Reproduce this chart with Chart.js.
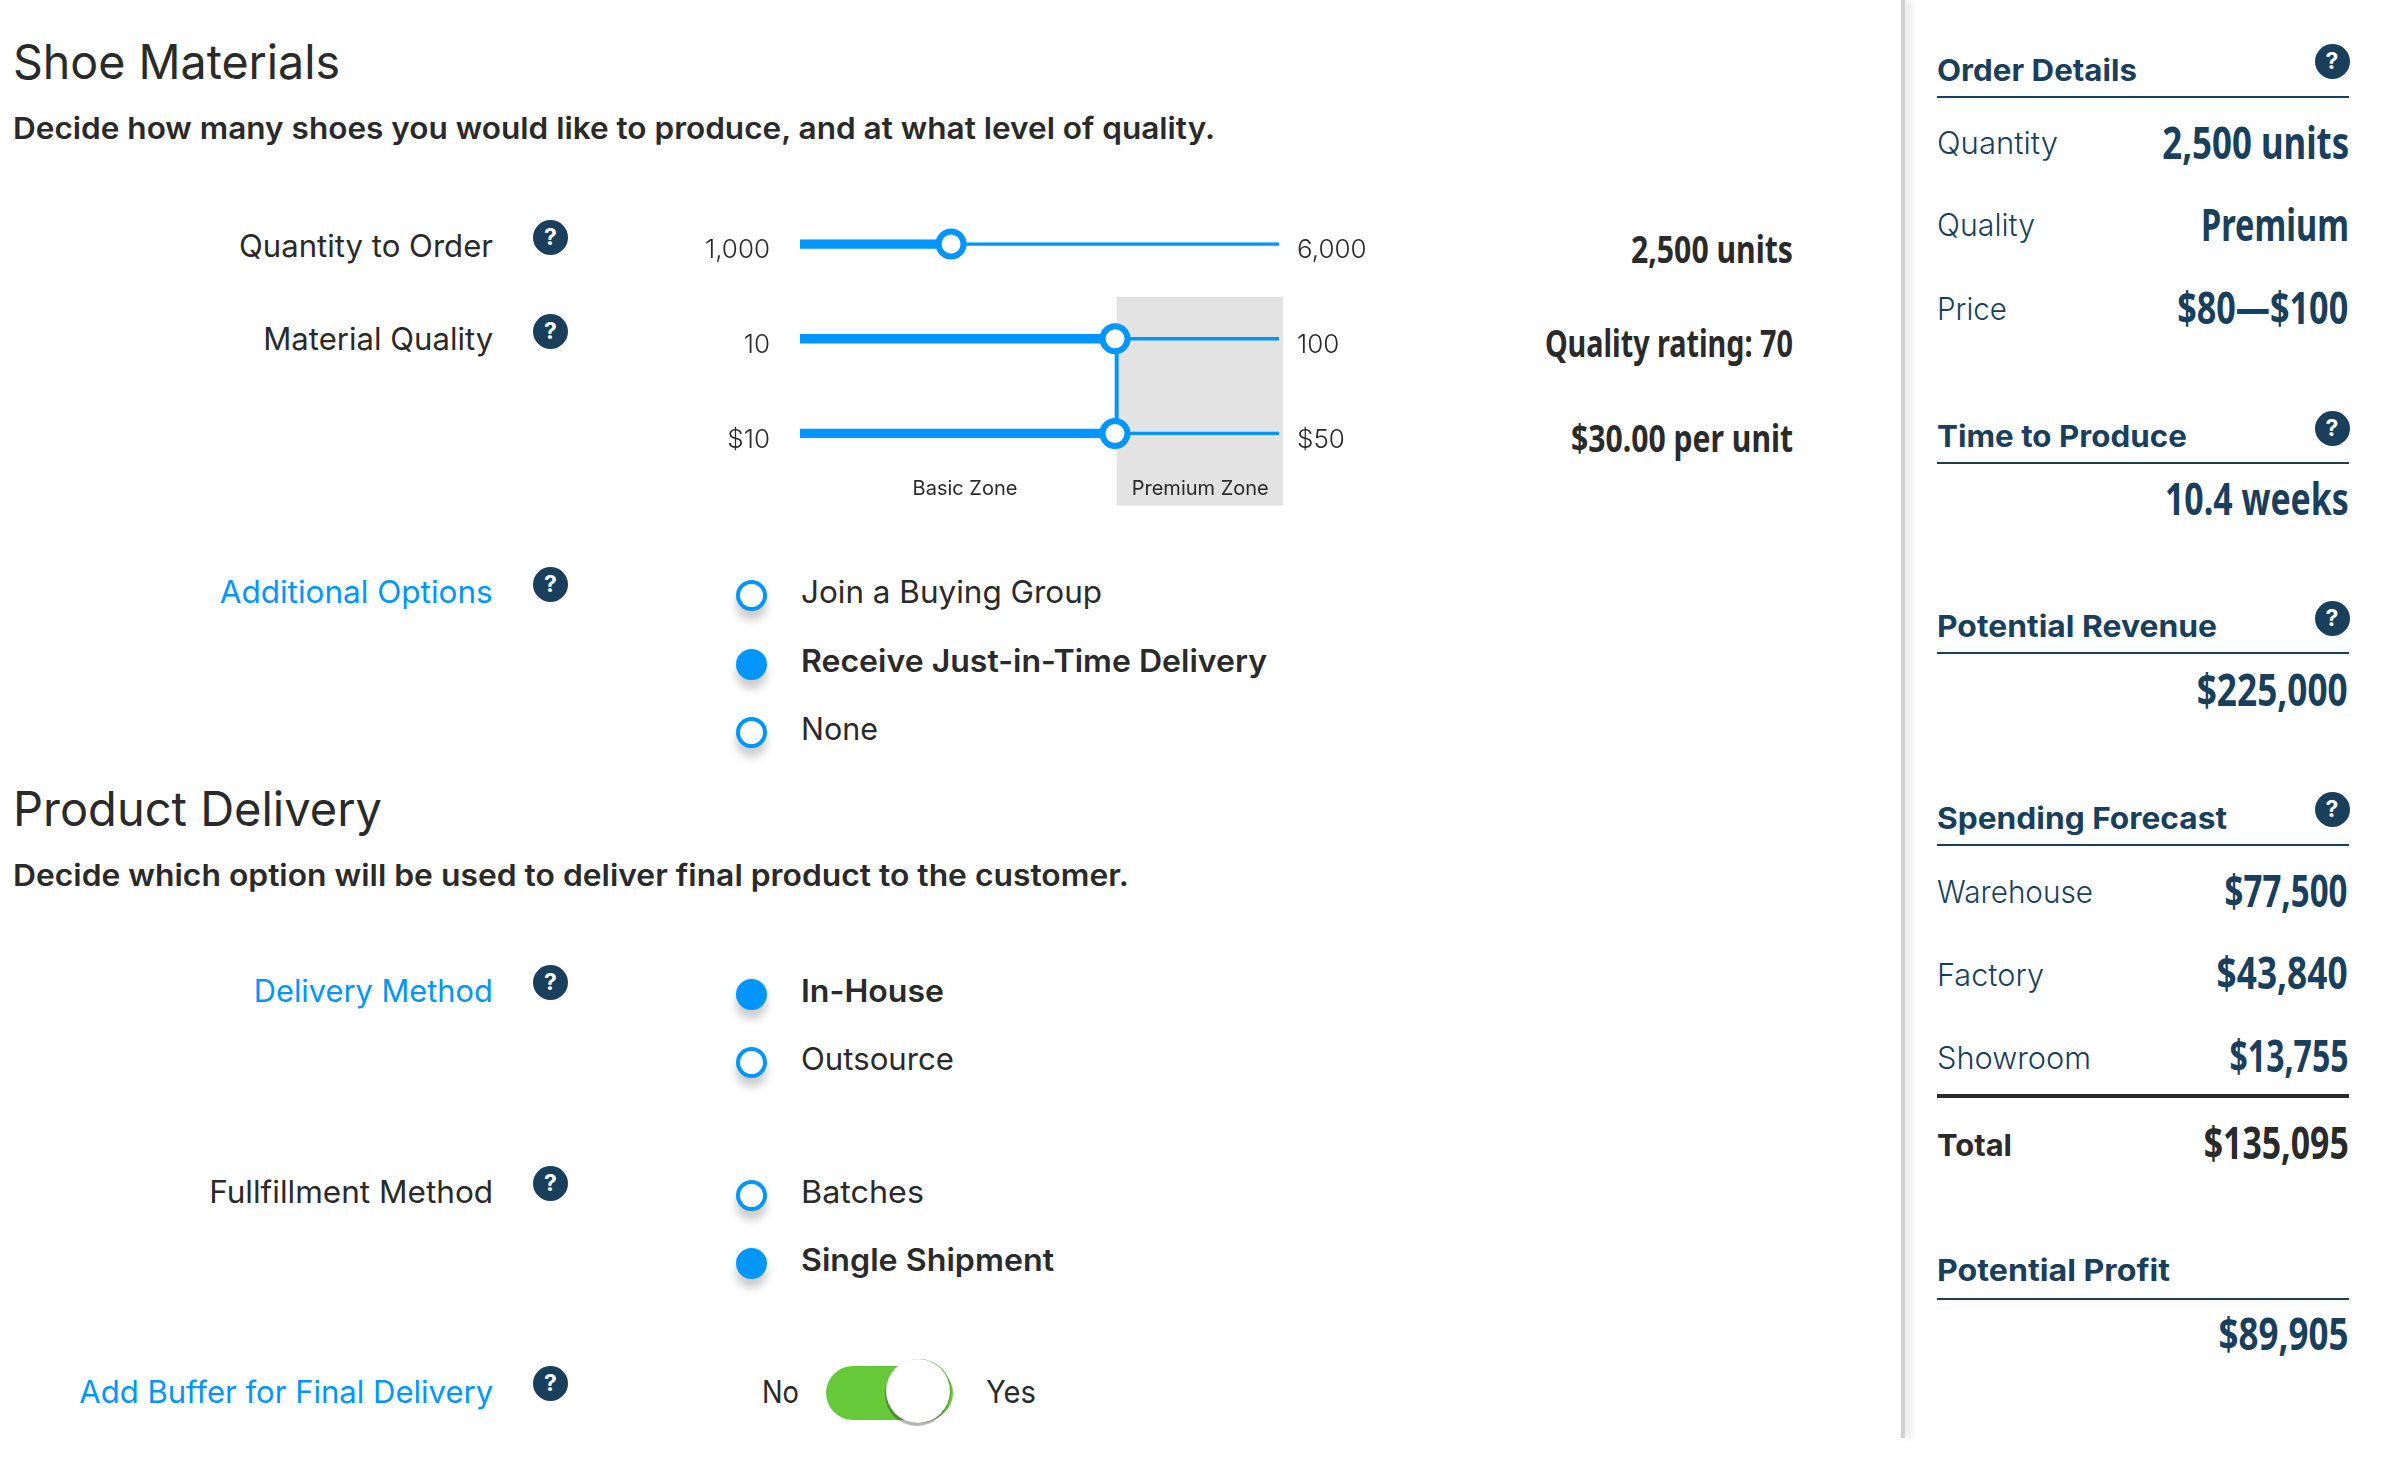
<!DOCTYPE html>
<html>
<head>
<meta charset="utf-8">
<title>Shoe Materials</title>
<script src="https://cdn.jsdelivr.net/npm/chart.js@4"></script>
<style>
    body { margin: 0; background: #fff; width: 2400px; height: 1473px; overflow: hidden; position: relative; font-family: Inter, sans-serif; color: #2a2a2a; }
    .t { position: absolute; white-space: nowrap; line-height: 1.2; }
    .title { font-size: 48px; font-weight: 400; }
    .sub { font-size: 30px; font-weight: 600; }
    .label { font-size: 31px; font-weight: 400; }
    .blue { color: #0095ff; }
    .picked { font-weight: 600; }
    .val { font-family: "Noto Sans", sans-serif; font-size: 38px; font-weight: 700; }
    .side-head { font-size: 30px; font-weight: 700; color: #1a3f5c; }
    .side-row { font-size: 31px; font-weight: 300; color: #1a3f5c; }
    .side-val { font-family: "Noto Sans", sans-serif; font-size: 44px; font-weight: 700; color: #1a3f5c; }
    .dark { color: #2a2a2a; }
    .help { position: absolute; width: 35px; height: 35px; border-radius: 50%; background: #1a3f5c; color: #fff; font: 700 23px/35px Inter, sans-serif; text-align: center; }
    .radio { position: absolute; width: 23px; height: 23px; border: 4px solid #0095ff; border-radius: 50%; background: #fff; box-shadow: 0 9px 9px rgba(0,0,0,.2); }
    .radio.on { background: #0095ff; }
    .rule { position: absolute; left: 1937px; width: 412px; height: 2px; background: #1a3f5c; }
    #divider { position: absolute; left: 1901px; top: 0; width: 4px; height: 1438px; background: #cfcfcf; box-shadow: 5px 0 7px rgba(0,0,0,.16); }
    #toggle { position: absolute; left: 826px; top: 1366px; width: 127px; height: 54px; border-radius: 27px; background: #66c93a; }
    #knob { position: absolute; left: 886px; top: 1359px; width: 64px; height: 64px; border-radius: 50%; background: #fff; box-shadow: -1px 3px 1px rgba(0,0,0,.3), 1px 0 0 #4f9e2b; }
    #sliders { position: absolute; left: 700px; top: 200px; width: 720px; height: 340px; }
</style>
</head>
<body>
<div id="divider"></div>
<div id="toggle"></div>
<div id="knob"></div>
<div id="sliders"><canvas id="sliderChart"></canvas></div>
<script>
const sliderNames = ['Quantity', 'Quality', 'Price'];
const sliderMins = [1000, 10, 10];
const sliderMaxs = [6000, 100, 50];
// where the handles sit on their tracks (captions say 2,500 / 70 / $30)
const handleValues = [2577, 69.2, 36.3];
const minLabels = ['1,000', '10', '$10'];
const maxLabels = ['6,000', '100', '$50'];
const zoneLabels = ['Basic Zone', 'Premium Zone'];
const zoneLabelCenters = [41, 85.2];   // on the quality scale
const premiumZoneStart = 69.5;
const linkedSliders = ['Quality', 'Price'];

const BLUE = '#0095ff';
const TEXT = '#2a2a2a';

function axisId(i) { return 'x' + i; }

const scales = { y: { type: 'category', labels: sliderNames, display: false, offset: false } };
sliderNames.forEach((n, i) => {
    scales[axisId(i)] = { type: 'linear', display: false, min: sliderMins[i], max: sliderMaxs[i] };
});

const datasets = [];
sliderNames.forEach((n, i) => {
    datasets.push({
        data: [{ x: sliderMins[i], y: n }, { x: sliderMaxs[i], y: n }],
        xAxisID: axisId(i), order: 4, borderColor: BLUE, borderWidth: 3.5, pointRadius: 0, borderCapStyle: 'butt'
    });
    datasets.push({
        data: [{ x: sliderMins[i], y: n }, { x: handleValues[i], y: n }],
        xAxisID: axisId(i), order: 2, borderColor: BLUE, borderWidth: 9.5, pointRadius: 0, borderCapStyle: 'butt'
    });
    datasets.push({
        data: [{ x: handleValues[i], y: n }],
        xAxisID: axisId(i), order: 0, showLine: false, pointRadius: 12.5, pointBorderWidth: 6,
        pointBorderColor: BLUE, pointBackgroundColor: '#fff'
    });
});
// vertical link between the quality and price handles
datasets.push({
    data: linkedSliders.map(n => ({ x: premiumZoneStart, y: n })),
    xAxisID: axisId(1), order: 1, borderColor: BLUE, borderWidth: 4, pointRadius: 0
});

const sliderDecor = {
    id: 'sliderDecor',
    beforeDatasetsDraw(chart) {
        const ctx = chart.ctx, xq = chart.scales[axisId(1)], y = chart.scales.y;
        const left = xq.getPixelForValue(premiumZoneStart);
        const right = xq.getPixelForValue(sliderMaxs[1]) + 4;
        const top = y.getPixelForValue(1) - 42;
        const bottom = y.getPixelForValue(2) + 72;
        ctx.save();
        ctx.fillStyle = '#e3e3e3';
        ctx.fillRect(left, top, right - left, bottom - top);
        ctx.restore();
    },
    afterDatasetsDraw(chart) {
        const ctx = chart.ctx, y = chart.scales.y;
        ctx.save();
        ctx.fillStyle = TEXT;
        ctx.textBaseline = 'alphabetic';
        ctx.font = '300 26px Inter, sans-serif';
        sliderNames.forEach((n, i) => {
            const xs = chart.scales[axisId(i)], py = y.getPixelForValue(i) + 14;
            ctx.textAlign = 'right';
            ctx.fillText(minLabels[i], xs.getPixelForValue(sliderMins[i]) - 30, py);
            ctx.textAlign = 'left';
            ctx.fillText(maxLabels[i], xs.getPixelForValue(sliderMaxs[i]) + 18, py);
        });
        ctx.font = '400 20px Inter, sans-serif';
        ctx.textAlign = 'center';
        zoneLabels.forEach((z, i) => {
            ctx.fillText(z, chart.scales[axisId(1)].getPixelForValue(zoneLabelCenters[i]), y.getPixelForValue(2) + 61);
        });
        ctx.restore();
    }
};

new Chart(document.getElementById('sliderChart'), {
    type: 'line',
    data: { datasets },
    options: {
        responsive: true,
        maintainAspectRatio: false,
        animation: false,
        devicePixelRatio: 1,
        layout: { padding: { left: 100, right: 141, top: 44, bottom: 106.5 } },
        plugins: { legend: { display: false }, tooltip: { enabled: false } },
        scales
    },
    plugins: [sliderDecor]
});

// page text around the chart: text, x, baseline, class, fitted width, right aligned?
function put(text, x, base, cls, width, right) {
    const el = document.createElement('div');
    el.className = 't ' + cls;
    el.textContent = text;
    const mark = document.createElement('i');
    mark.style.cssText = 'display:inline-block;width:0;height:0';
    el.appendChild(mark);
    document.body.appendChild(el);
    el.style.top = '0px';
    el.style.top = (base - mark.getBoundingClientRect().bottom) + 'px';
    const w = el.getBoundingClientRect().width;
    el.style.left = (right ? x - w : x) + 'px';
    if (width) {
        el.style.transformOrigin = right ? 'right center' : 'left center';
        el.style.transform = 'scaleX(' + (width / w) + ')';
    }
}
function help(cx, cy) {
    const el = document.createElement('div');
    el.className = 'help';
    el.textContent = '?';
    el.style.left = (cx - 17.5) + 'px';
    el.style.top = (cy - 17.5) + 'px';
    document.body.appendChild(el);
}
function radio(cy, on) {
    const el = document.createElement('div');
    el.className = 'radio' + (on ? ' on' : '');
    el.style.left = '736px';
    el.style.top = (cy - 15.5) + 'px';
    document.body.appendChild(el);
}
function rule(y, h, color) {
    const el = document.createElement('div');
    el.className = 'rule';
    el.style.top = y + 'px';
    if (h) el.style.height = h + 'px';
    if (color) el.style.background = color;
    document.body.appendChild(el);
}

document.fonts.ready.then(() => {
    put('Shoe Materials', 13, 79, 'title', 327);
    put('Decide how many shoes you would like to produce, and at what level of quality.', 13, 139, 'sub', 1202);
    put('Product Delivery', 13, 826, 'title', 369);
    put('Decide which option will be used to deliver final product to the customer.', 13, 886, 'sub', 1116);

    put('Quantity to Order', 493, 257, 'label', 254, true);
    put('Material Quality', 493, 350, 'label', 230, true);
    put('Additional Options', 493, 603, 'label blue', 273, true);
    put('Delivery Method', 493, 1002, 'label blue', 239, true);
    put('Fullfillment Method', 493, 1203, 'label', 284, true);
    put('Add Buffer for Final Delivery', 493, 1403, 'label blue', 414, true);
    [237, 331, 584, 982, 1183, 1383].forEach(y => help(550.5, y));

    put('2,500 units', 1793, 263, 'val', 162, true);
    put('Quality rating: 70', 1793, 357, 'val', 248, true);
    put('$30.00 per unit', 1793, 452, 'val', 222, true);

    radio(595, false); put('Join a Buying Group', 801, 603, 'label', 301);
    radio(664, true);  put('Receive Just-in-Time Delivery', 801, 672, 'label picked', 466);
    radio(732, false); put('None', 801, 740, 'label', 77);
    radio(994, true);  put('In-House', 801, 1002, 'label picked', 143);
    radio(1062, false); put('Outsource', 801, 1070, 'label', 153);
    radio(1195, false); put('Batches', 801, 1203, 'label', 123);
    radio(1263, true);  put('Single Shipment', 801, 1271, 'label picked', 253);
    put('No', 762, 1403, 'label', 37);
    put('Yes', 986, 1403, 'label', 50);

    // order sidebar
    put('Order Details', 1937, 81, 'side-head', 200);
    rule(96); help(2332, 61);
    put('Quantity', 1937, 154, 'side-row', 121);
    put('2,500 units', 2349, 159, 'side-val', 187, true);
    put('Quality', 1937, 236, 'side-row', 98);
    put('Premium', 2349, 241, 'side-val', 148, true);
    put('Price', 1937, 320, 'side-row', 70);
    put('$80—$100', 2348, 324, 'side-val', 171, true);

    put('Time to Produce', 1937, 447, 'side-head', 250);
    rule(462); help(2332, 428);
    put('10.4 weeks', 2349, 515, 'side-val', 184, true);

    put('Potential Revenue', 1937, 637, 'side-head', 280);
    rule(652); help(2332, 618);
    put('$225,000', 2348, 706, 'side-val', 151, true);

    put('Spending Forecast', 1937, 829, 'side-head', 290);
    rule(844); help(2332, 809);
    put('Warehouse', 1937, 903, 'side-row', 156);
    put('$77,500', 2348, 907, 'side-val', 123, true);
    put('Factory', 1937, 986, 'side-row', 107);
    put('$43,840', 2348, 989, 'side-val', 131, true);
    put('Showroom', 1937, 1069, 'side-row', 154);
    put('$13,755', 2349, 1072, 'side-val', 119, true);
    rule(1094, 4, '#2a2a2a');
    put('Total', 1937, 1156, 'side-head dark', 75);
    put('$135,095', 2349, 1159, 'side-val dark', 145, true);

    put('Potential Profit', 1937, 1281, 'side-head', 233);
    rule(1298);
    put('$89,905', 2349, 1350, 'side-val', 130, true);
});
</script>
</body>
</html>
